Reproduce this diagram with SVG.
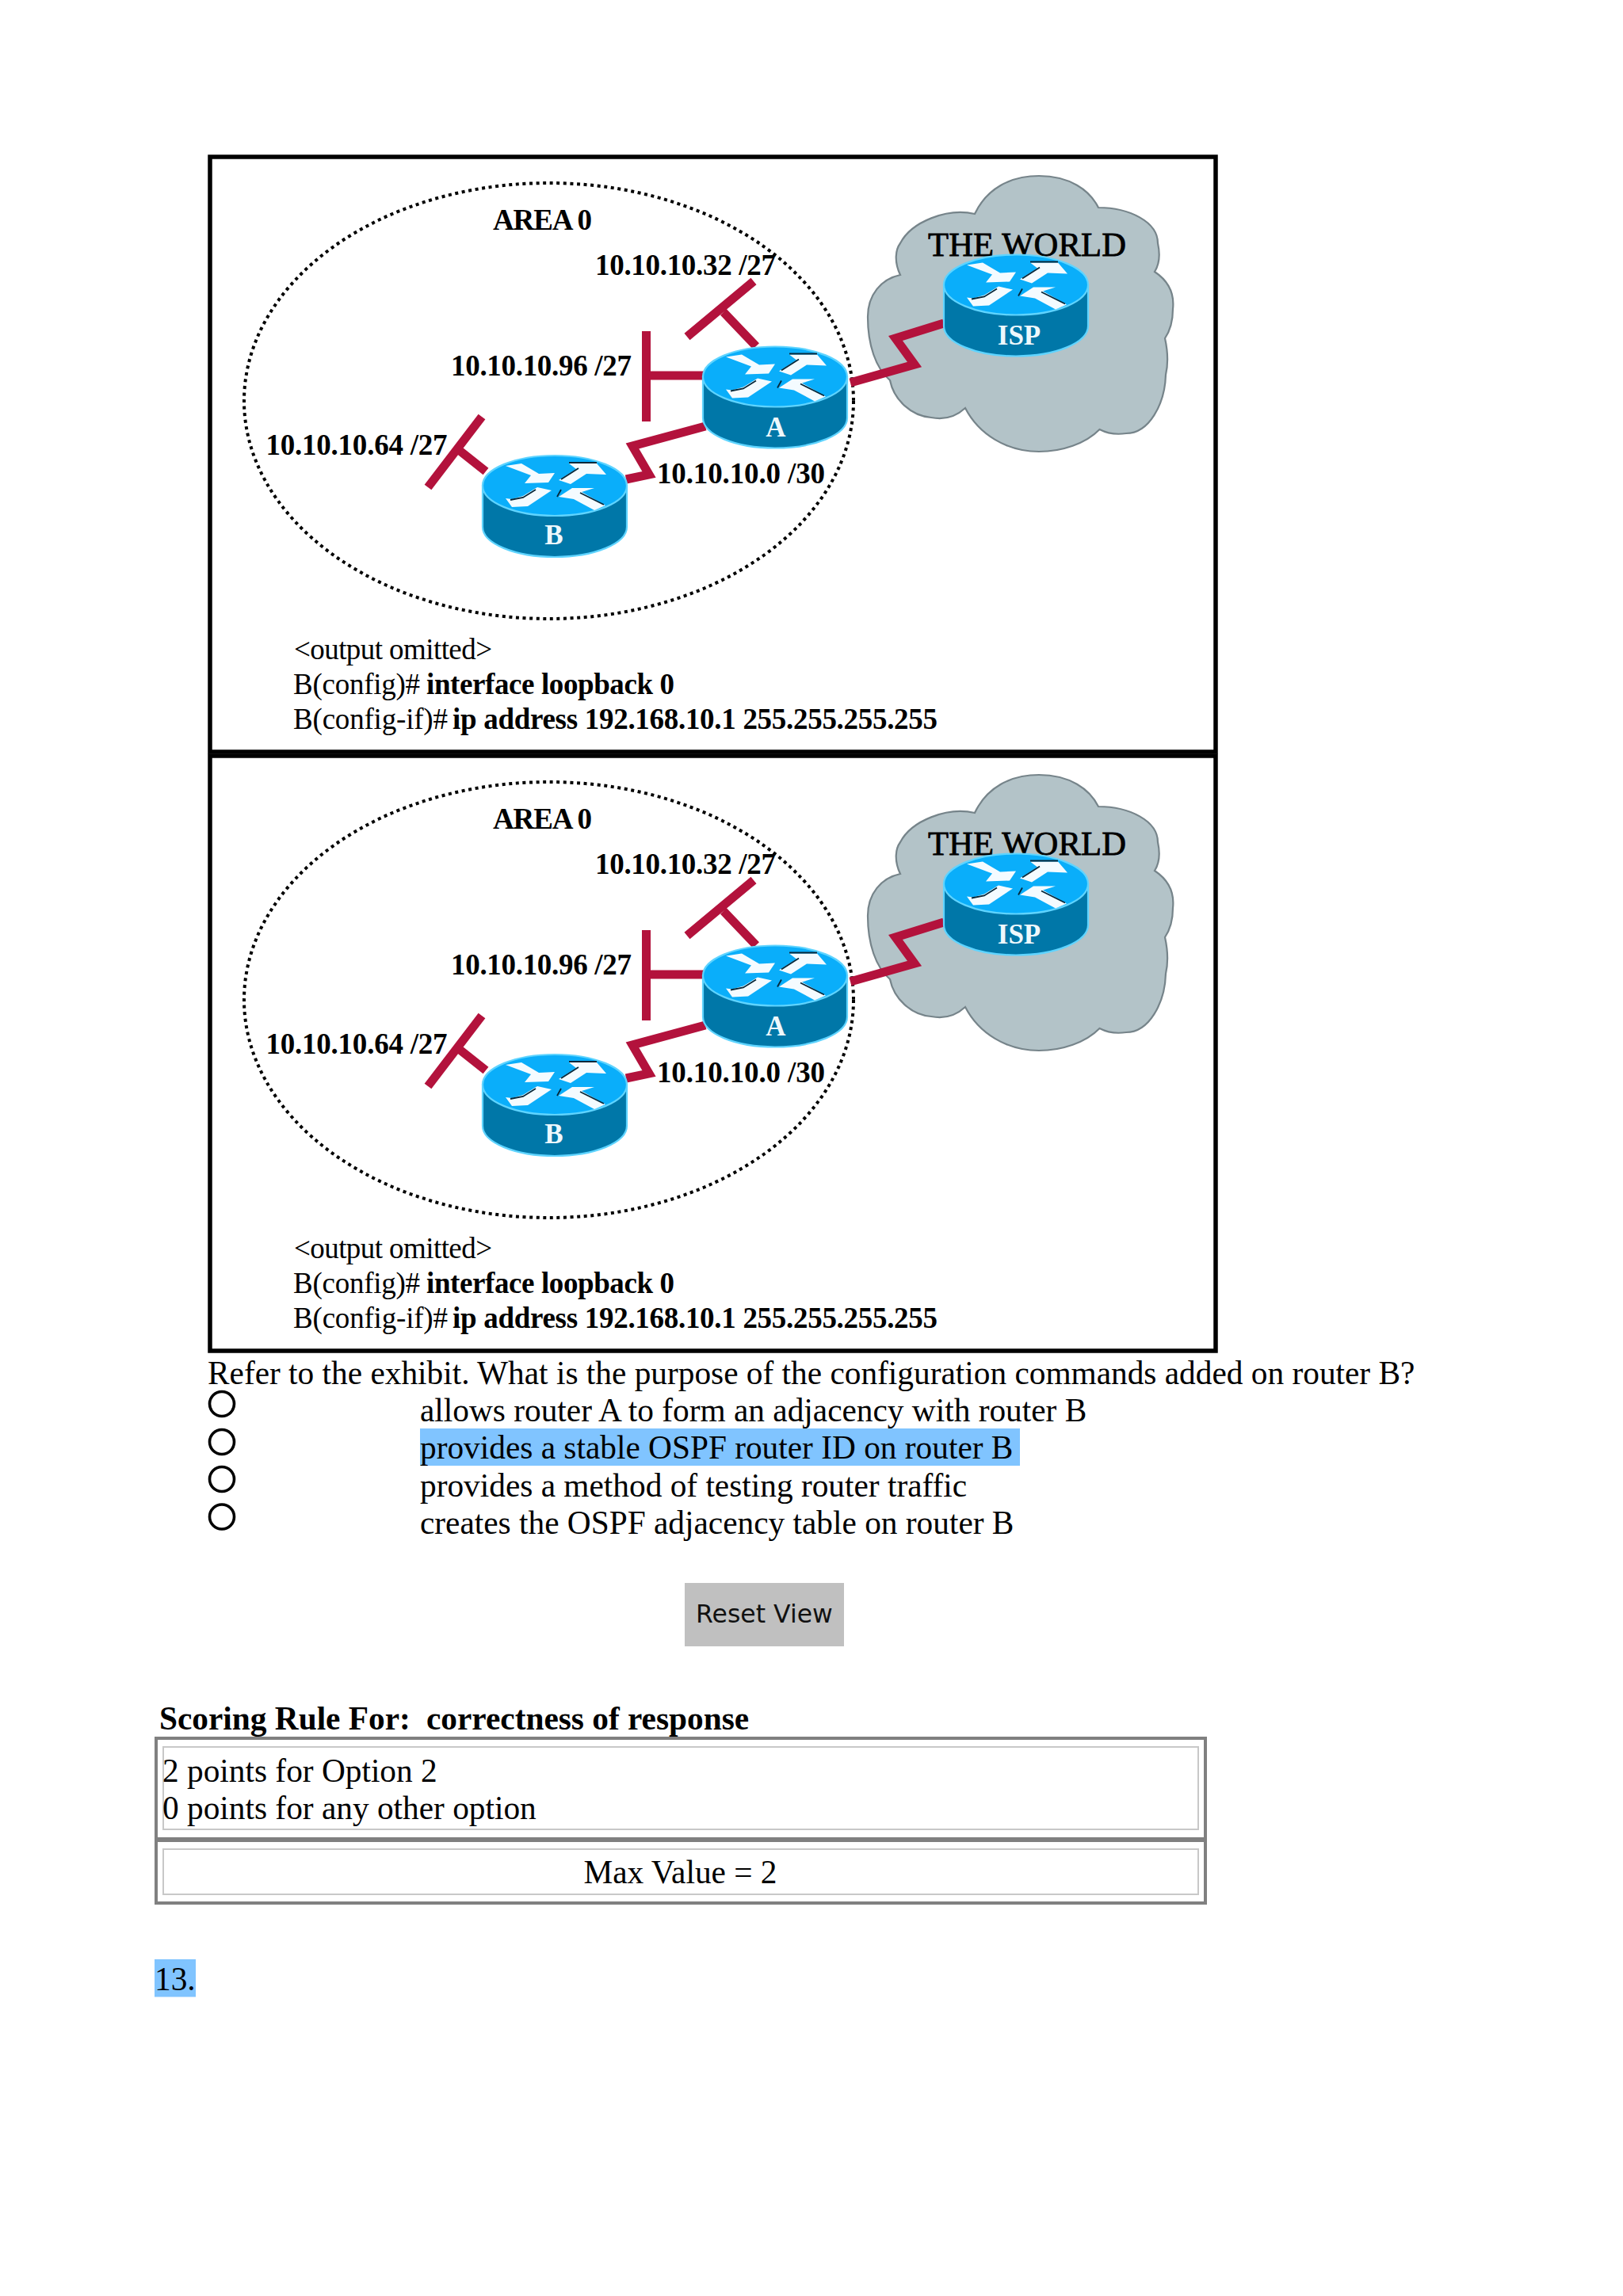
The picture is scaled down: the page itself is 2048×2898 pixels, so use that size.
<svg xmlns="http://www.w3.org/2000/svg" xmlns:xlink="http://www.w3.org/1999/xlink" width="2048" height="2898" viewBox="0 0 2048 2898">
<style>
text{font-family:"Liberation Serif","Times New Roman",serif;fill:#000}
.frame{fill:#fff;stroke:#000;stroke-width:5.5}
.area{fill:none;stroke:#000;stroke-width:4;stroke-dasharray:4 4.600}
.cloud{fill:#b3c3c8;stroke:#76848a;stroke-width:2.200}
.red{fill:none;stroke:#b3123c;stroke-linejoin:miter}
.w11{stroke-width:11}
.net{font-size:37px;font-weight:bold}
.cmd{font-size:37px}
.cmdb{font-size:37px;font-weight:bold}
.rl{font-size:35px;font-weight:bold;fill:#eef8fc}
.world{font-size:42.600px;stroke:#000;stroke-width:.8px}
.q{font-size:41.330px}
.hl{fill:#80c4ff}
.radio{fill:#fff;stroke:#000;stroke-width:3.600}
.outer{fill:#fff;stroke:#808080;stroke-width:4}
.inner{fill:#fff;stroke:#c8c8c8;stroke-width:2}
</style>
<defs>
<g id="router">
<path d="M-91 0V52A91 38 0 0 0 91 52V0Z" fill="#0077a8" stroke="#5fd4ff" stroke-width="2.200"/>
<ellipse cx="0" cy="0" rx="91" ry="38" fill="#0aaefa" stroke="#5fd4ff" stroke-width="2.200"/>
<g fill="#f4fbff">
<polygon points="-62,-25 -42,-28 -20,-15 0,-16 -8,-4 -38,-3 -30,-13"/>
<polygon points="5,-7 27,-21 18,-28 53,-28 65,-14 40,-15 20,-2"/>
<polygon points="-62,16 -54,27 -34,26 -4,6 -22,2 -40,13 -54,17"/>
<polygon points="5,14 22,3 50,3 34,8 64,25 50,31 24,17"/>
</g>
<path d="M18 -29H53M8 -8L30 -22M-56 18L-40 15L-24 5M3 14L8 5M32 9L62 24" fill="none" stroke="#06283a" stroke-width="1.800"/>
</g>
<path id="cloudshape" d="M1230 270C1245 238 1275 222 1311 222C1350 222 1375 240 1386 262C1425 262 1461 280 1461 307C1465 325 1462 335 1457 343C1475 355 1482 372 1480 390C1480 405 1476 418 1470 427C1474 445 1474 460 1471 473C1470 510 1450 547 1421 547C1408 549 1397 547 1387.500 542C1370 560 1340 570 1311 570C1270 570 1235 548 1218 515C1205 527 1190 530 1175 527C1150 525 1128 505 1123 480C1105 465 1095 435 1095 400C1095 372 1112 352 1136 347C1128 330 1130 315 1136 307C1150 280 1195 262 1230 270Z"/>
</defs>
<rect id="page" x="0" y="0" width="2048" height="2898" fill="#fff"/>

<g id="panel-1">
<rect class="frame" x="265" y="198" width="1269" height="751"/>
<ellipse class="area" cx="692.500" cy="506" rx="384.500" ry="275"/>
<g id="p1-cloud"><use href="#cloudshape" class="cloud"/><text class="world" x="1171" y="323" textLength="250">THE WORLD</text></g>
<g id="p1-connectors">
<path class="red w11" d="M867 425L951 355M913 394L954 437"/>
<path class="red w11" d="M815.500 418V532"/>
<path class="red w11" d="M815.500 474H888"/>
<path class="red w11" d="M540 615L608 526M579 568L613 595"/>
<path class="red w11" d="M890 538L798 563L819 599L790 605"/>
<path class="red w11" d="M1073 483L1154 460L1130 427L1191 408"/>
</g>
<g id="p1-router-a"><use href="#router" x="978" y="475.500"/><text class="rl" x="979" y="551" text-anchor="middle">A</text></g>
<g id="p1-router-b"><use href="#router" x="700" y="613"/><text class="rl" x="699" y="687" text-anchor="middle">B</text></g>
<g id="p1-router-isp"><use href="#router" x="1282" y="359.500"/><text class="rl" x="1286" y="435" text-anchor="middle">ISP</text></g>
<g id="p1-labels">
<text class="net" x="622" y="289.500" textLength="125">AREA 0</text>
<text class="net" x="751" y="347" textLength="228">10.10.10.32 /27</text>
<text class="net" x="569" y="473.500" textLength="228">10.10.10.96 /27</text>
<text class="net" x="335.500" y="574" textLength="229">10.10.10.64 /27</text>
<text class="net" x="829" y="610" textLength="212">10.10.10.0 /30</text>
<text class="cmd" x="371" y="832" textLength="250">&lt;output omitted&gt;</text>
<text class="cmd" x="370" y="875.500" textLength="160">B(config)#</text>
<text class="cmdb" x="538" y="875.500" textLength="313">interface loopback 0</text>
<text class="cmd" x="370" y="920" textLength="195">B(config-if)#</text>
<text class="cmdb" x="571" y="920" textLength="612">ip address 192.168.10.1 255.255.255.255</text>
</g>
</g>

<g id="panel-2" transform="translate(0 756)">
<rect class="frame" x="265" y="198" width="1269" height="751"/>
<ellipse class="area" cx="692.500" cy="506" rx="384.500" ry="275"/>
<g id="p2-cloud"><use href="#cloudshape" class="cloud"/><text class="world" x="1171" y="323" textLength="250">THE WORLD</text></g>
<g id="p2-connectors">
<path class="red w11" d="M867 425L951 355M913 394L954 437"/>
<path class="red w11" d="M815.500 418V532"/>
<path class="red w11" d="M815.500 474H888"/>
<path class="red w11" d="M540 615L608 526M579 568L613 595"/>
<path class="red w11" d="M890 538L798 563L819 599L790 605"/>
<path class="red w11" d="M1073 483L1154 460L1130 427L1191 408"/>
</g>
<g id="p2-router-a"><use href="#router" x="978" y="475.500"/><text class="rl" x="979" y="551" text-anchor="middle">A</text></g>
<g id="p2-router-b"><use href="#router" x="700" y="613"/><text class="rl" x="699" y="687" text-anchor="middle">B</text></g>
<g id="p2-router-isp"><use href="#router" x="1282" y="359.500"/><text class="rl" x="1286" y="435" text-anchor="middle">ISP</text></g>
<g id="p2-labels">
<text class="net" x="622" y="289.500" textLength="125">AREA 0</text>
<text class="net" x="751" y="347" textLength="228">10.10.10.32 /27</text>
<text class="net" x="569" y="473.500" textLength="228">10.10.10.96 /27</text>
<text class="net" x="335.500" y="574" textLength="229">10.10.10.64 /27</text>
<text class="net" x="829" y="610" textLength="212">10.10.10.0 /30</text>
<text class="cmd" x="371" y="832" textLength="250">&lt;output omitted&gt;</text>
<text class="cmd" x="370" y="875.500" textLength="160">B(config)#</text>
<text class="cmdb" x="538" y="875.500" textLength="313">interface loopback 0</text>
<text class="cmd" x="370" y="920" textLength="195">B(config-if)#</text>
<text class="cmdb" x="571" y="920" textLength="612">ip address 192.168.10.1 255.255.255.255</text>
</g>
</g>

<g id="question">
<text class="q" x="262" y="1746.500">Refer to the exhibit. What is the purpose of the configuration commands added on router B?</text>
<circle class="radio" cx="280" cy="1772" r="15.500"/>
<circle class="radio" cx="280" cy="1820" r="15.500"/>
<circle class="radio" cx="280" cy="1867" r="15.500"/>
<circle class="radio" cx="280" cy="1914.500" r="15.500"/>
<rect class="hl" x="530" y="1803" width="757" height="47"/>
<text class="q" x="530" y="1794">allows router A to form an adjacency with router B</text>
<text class="q" x="530" y="1841">provides a stable OSPF router ID on router B</text>
<text class="q" x="530" y="1888.500">provides a method of testing router traffic</text>
<text class="q" x="530" y="1936">creates the OSPF adjacency table on router B</text>
</g>

<g id="reset-button">
<rect x="864" y="1998" width="201" height="80" fill="#c0c0c0"/>
<text x="964.500" y="2048" text-anchor="middle" style="font-family:'DejaVu Sans',sans-serif;font-size:31.500px;fill:#111">Reset View</text>
</g>

<g id="scoring">
<text class="q" x="201" y="2183" font-weight="bold">Scoring Rule For:</text>
<text class="q" x="538" y="2183" font-weight="bold">correctness of response</text>
<rect class="outer" x="197" y="2194" width="1324" height="127"/>
<rect class="inner" x="206" y="2205" width="1306" height="104"/>
<text class="q" x="205" y="2248.500">2 points for Option 2</text>
<text class="q" x="205" y="2296">0 points for any other option</text>
<rect class="outer" x="197" y="2323" width="1324" height="79"/>
<rect class="inner" x="206" y="2334" width="1306" height="57"/>
<text class="q" x="858.500" y="2377" text-anchor="middle">Max Value = 2</text>
</g>

<g id="item-13">
<rect class="hl" x="195" y="2473" width="52" height="47.500"/>
<text class="q" x="195" y="2512">13.</text>
</g>
</svg>
